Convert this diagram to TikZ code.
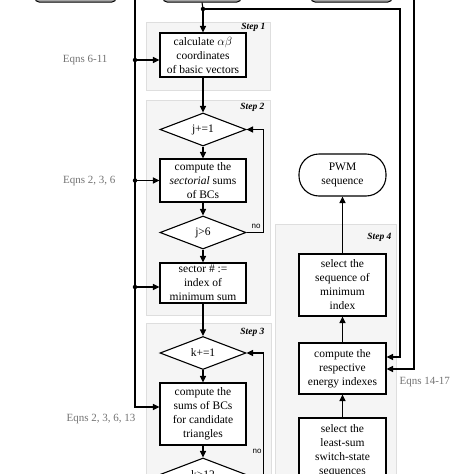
\documentclass[tikz,border=0pt]{standalone}
\usepackage{fontspec}
\setmainfont{Liberation Serif}
\newfontfamily\nofont{Liberation Sans}
\usetikzlibrary{shapes.geometric,arrows.meta}
\begin{document}
\begin{tikzpicture}[x=1pt,y=-1pt,
  font=\fontsize{11.5}{14}\selectfont,
  box/.style={draw,line width=1.1pt,fill=white,align=center,inner sep=0pt,minimum width=86pt},
  dia/.style={draw,diamond,line width=1.1pt,fill=white,inner sep=0pt,minimum width=86pt,minimum height=33pt,aspect=2.6},
  steparea/.style={draw=black!13,fill=black!4,line width=0.8pt},
  steplabel/.style={font=\fontsize{9.5}{11}\selectfont\bfseries\itshape,anchor=east},
  eq/.style={text=black!55,font=\fontsize{11}{13}\selectfont},
  con/.style={line width=1.1pt},
  arr/.style={con,-{Triangle[length=6.5pt,width=6pt]}},
  dot/.style={circle,fill,inner sep=0pt,minimum size=4.5pt},
  nolab/.style={font=\nofont\fontsize{8}{9}\selectfont},
  topbox/.style={draw,fill=black!35,rounded corners=4pt,line width=1pt,inner sep=0pt,minimum height=20pt}
]
\useasboundingbox (0,0) rectangle (474,474);

% step areas
\draw[steparea] (146,22) rectangle (270,90);
\draw[steparea] (146,100) rectangle (270,315);
\draw[steparea] (146,323) rectangle (271,480);
\draw[steparea] (275,224) rectangle (396,480);
\node[steplabel] (s1) at (269,27) {Step 1};
\node[steplabel] (s2) at (268,107) {Step 2};
\node[steplabel] (s3) at (268,332) {Step 3};
\node[steplabel] (s4) at (395,237) {Step 4};

% top boxes (cut off)
\node[topbox,minimum width=81pt] (t1) at (75.5,-8) {};
\node[topbox,minimum width=78pt] (t2) at (202,-8) {};
\node[topbox,minimum width=81pt] (t3) at (351.5,-8) {};

% left column
\node[box,minimum height=44pt] (calc) at (203,55) {calculate $\alpha\beta$\\coordinates\\of basic vectors};
\node[dia] (j1) at (203,129.5) {j+=1};
\node[box,minimum height=43pt] (sect) at (203,180.5) {compute the\\\textit{sectorial} sums\\of BCs};
\node[dia] (j6) at (203,232.5) {j>6};
\node[box,minimum height=40pt] (sector) at (203,283) {sector \# :=\\index of\\minimum sum};
\node[dia] (k1) at (203,353) {k+=1};
\node[box,minimum height=62pt] (sums) at (203,414) {compute the\\sums of BCs\\for candidate\\triangles};
\node[dia] (k12) at (203,474.5) {k>12};

% right column
\node[draw,line width=1.1pt,rounded corners=20pt,minimum width=87pt,minimum height=42pt,align=center,inner sep=0pt,fill=white] (pwm) at (342.5,175) {PWM\\sequence};
\node[box,minimum width=87pt,minimum height=62pt] (selmin) at (342.5,285) {select the\\sequence of\\minimum\\index};
\node[box,minimum width=87pt,minimum height=51pt] (energy) at (342.5,368.5) {compute the\\respective\\energy indexes};
\node[box,minimum width=87pt,minimum height=65pt] (least) at (342.5,450.5) {select the\\least-sum\\switch-state\\sequences};

% equation labels
\node[eq,anchor=east] (e1) at (111,60) {Eqns 6-11};
\node[eq,anchor=east] (e2) at (119,181) {Eqns 2, 3, 6};
\node[eq,anchor=east] (e3) at (139,419) {Eqns 2, 3, 6, 13};
\node[eq,anchor=west] (e4) at (396,382) {Eqns 14-17};

% main vertical flow
\draw[arr] (calc) -- (j1);
\draw[arr] (j1) -- (sect);
\draw[arr] (sect) -- (j6);
\draw[arr] (j6) -- (sector);
\draw[arr] (sector) -- (k1);
\draw[arr] (k1) -- (sums);
\draw[arr] (sums) -- (k12);
\draw[arr] (least) -- (energy);
\draw[arr] (energy) -- (selmin);
\draw[arr] (selmin) -- (pwm);

% loops
\draw[arr] (j6.east) -- ++(17,0) |- (j1.east);
\node[nolab] (no1) at (256,226) {no};
\draw[arr] (k12.east) -- ++(17,0) |- (k1.east);
\node[nolab] (no2) at (257,451) {no};

% top branch
\coordinate (d0) at (203,9);
\node[dot] at (d0) {};
\draw[con] (t2.south) -- (d0);
\draw[arr] (d0) -- (calc.north);
\coordinate (r1) at (400,357);
\draw[arr] (d0) -| (r1) -- (r1 -| energy.east);
\coordinate (tin) at (414,-5);
\draw[arr] (tin) |- ([yshift=-0.5pt]energy.east);

% left bus
\coordinate (lin) at (135,-5);
\draw[arr] (lin) |- ([yshift=7pt]sums.west);
\coordinate (l1) at (135,60);
\coordinate (l2) at (135,180.5);
\coordinate (l3) at (135,287);
\node[dot] at (l1) {};
\node[dot] at (l2) {};
\node[dot] at (l3) {};
\draw[arr] (l1) -- (l1 -| calc.west);
\draw[arr] (l2) -- (l2 -| sect.west);
\draw[arr] (l3) -- (l3 -| sector.west);
\end{tikzpicture}
\end{document}
